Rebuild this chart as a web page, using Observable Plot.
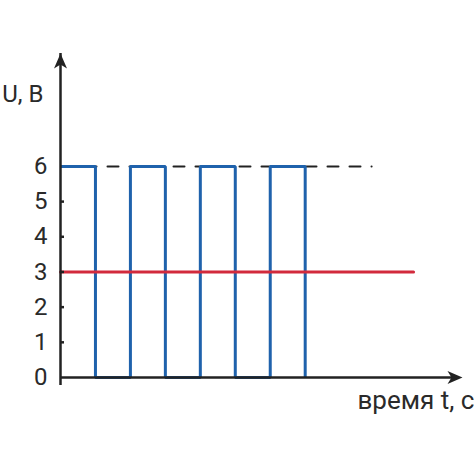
<!DOCTYPE html>
<html><head><meta charset="utf-8">
<script src="https://cdn.jsdelivr.net/npm/d3@7"></script>
<script src="https://cdn.jsdelivr.net/npm/@observablehq/plot@0.6"></script>
<style>body{margin:0;overflow:hidden;background:#fff}</style>
</head><body><div id="chart"></div>
<script>
// Square wave U(t)
const waveT = [0, 1, 1, 2, 2, 3, 3, 4, 4, 5, 5, 6, 6, 7, 7];
const waveU = [6, 6, 0, 0, 6, 6, 0, 0, 6, 6, 0, 0, 6, 6, 0];
// Dashed reference level (max voltage)
const dashT = [0, 8.9];
const dashU = [6, 6];
// Average level (red)
const avgT = [0, 10.1];
const avgU = [3, 3];
// Axis ticks / extents
const yTicks = [0, 1, 2, 3, 4, 5, 6];
const yMinorTicks = [1, 2, 3, 4, 5];
const xMax = 11.5;
const yMax = 9.21;
const yLabel = "U, B";
const xLabel = "время t, с";

const wave = waveT.map((t, i) => ({t, u: waveU[i]}));
const dash = dashT.map((t, i) => ({t, u: dashU[i]}));
const avg = avgT.map((t, i) => ({t, u: avgU[i]}));

const arrowHead = {
  draw(ctx) {
    ctx.moveTo(0, 0);
    ctx.lineTo(6.5, 15);
    ctx.lineTo(0, 11);
    ctx.lineTo(-6.5, 15);
    ctx.closePath();
  }
};

const font = "Roboto, 'Open Sans', sans-serif";
const axisColor = "#222";

const chart = Plot.plot({
  width: 474,
  height: 474,
  marginLeft: 60,
  marginRight: 12,
  marginTop: 53,
  marginBottom: 97,
  style: {fontFamily: font, background: "#fff", overflow: "visible"},
  x: {domain: [0, xMax], axis: null, label: null},
  y: {domain: [0, yMax], label: null},
  marks: [
    Plot.axisY(yTicks, {tickSize: 0, tickPadding: 13, fontSize: 24, fill: "#2a2a2a", label: null, tickFormat: d => String(d)}),
    Plot.line(dash, {x: "t", y: "u", stroke: axisColor, strokeWidth: 2, strokeDasharray: "11,11", strokeDashoffset: -3}),
    Plot.line(wave, {x: "t", y: "u", stroke: "#1f62ac", strokeWidth: 3, strokeLinejoin: "miter", strokeLinecap: "butt"}),
    Plot.line(avg, {x: "t", y: "u", stroke: "#d22a3c", strokeWidth: 3}),
    Plot.ruleX([0], {y1: 0, y2: yMax, stroke: axisColor, strokeWidth: 2.5, insetTop: 8}),
    Plot.ruleY([0], {x1: 0, x2: xMax, stroke: axisColor, strokeWidth: 2.5, insetRight: 8}),
    Plot.link(yMinorTicks, {x1: 0, x2: 0.1, y1: d => d, y2: d => d, stroke: axisColor, strokeWidth: 2.5}),
    Plot.dot([0], {x: () => 0, y: () => yMax, symbol: arrowHead, fill: axisColor, stroke: "none"}),
    Plot.dot([0], {x: () => xMax, y: () => 0, symbol: arrowHead, rotate: 90, fill: axisColor, stroke: "none"}),
    Plot.text([yLabel], {frameAnchor: "top-left", dx: -17, dy: 31, textAnchor: "end", fontSize: 24, fill: "#2a2a2a"}),
    Plot.text([xLabel], {frameAnchor: "bottom-right", dx: -105, dy: 31, textAnchor: "start", fontSize: 26, fill: "#2a2a2a"})
  ]
});
document.getElementById("chart").appendChild(chart);
</script>
</body></html>
